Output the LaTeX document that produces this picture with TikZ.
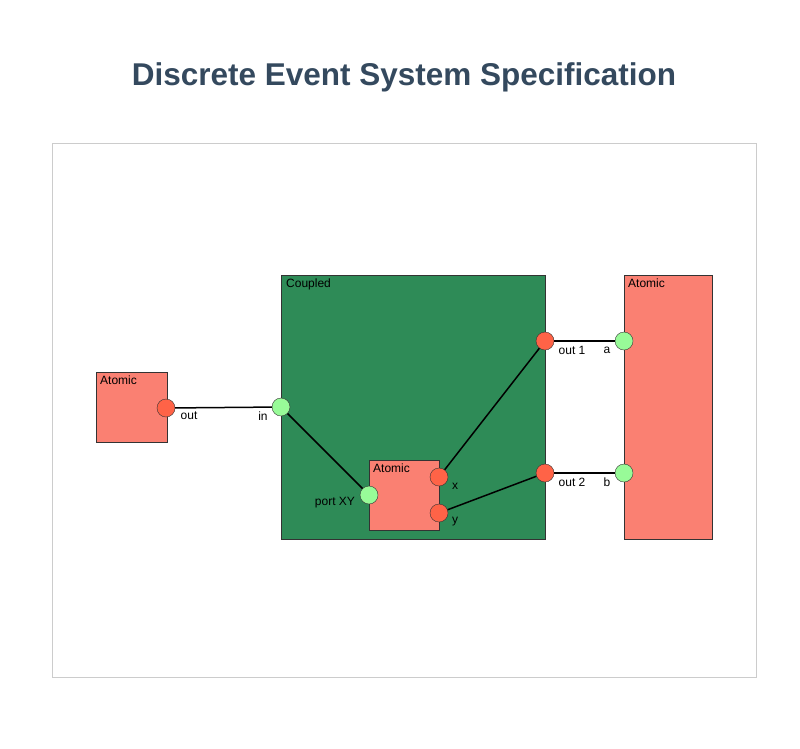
\documentclass[tikz,border=0pt]{standalone}
\usepackage{fontspec}
\setmainfont{Liberation Sans}
\begin{document}
\begin{tikzpicture}[x=1pt,y=-1pt,
  atom/.style={draw=black!80,fill={rgb,255:red,250;green,128;blue,114},line width=0.6pt},
  coup/.style={draw=black!80,fill={rgb,255:red,46;green,139;blue,87},line width=0.6pt},
  oport/.style={circle,draw=black!80,fill={rgb,255:red,255;green,99;blue,71},minimum size=18pt,inner sep=0pt},
  iport/.style={circle,draw=black!80,fill={rgb,255:red,152;green,251;blue,152},minimum size=18pt,inner sep=0pt},
  lbl/.style={font=\fontsize{12}{14}\selectfont,inner sep=0pt},
  tit/.style={anchor=north west,font=\fontsize{12}{14}\selectfont,inner sep=0pt},
  wire/.style={line width=1.5pt}]
\useasboundingbox (0,0) rectangle (800,748);
\node[font=\fontsize{31.5}{36}\selectfont\bfseries,text={rgb,255:red,52;green,73;blue,94}] (title) at (404,77) {Discrete Event System Specification};
\draw[black!20] (52,143) rectangle (756,677);
\draw[atom] (96,372) rectangle (167,442);
\node[tit] (t1) at (100,376) {Atomic};
\draw[coup] (281,275) rectangle (545,539);
\node[tit] (t2) at (286,279) {Coupled};
\draw[atom] (369,460) rectangle (439,530);
\node[tit] (t3) at (373,464) {Atomic};
\draw[atom] (624,275) rectangle (712,539);
\node[tit] (t4) at (628,279) {Atomic};
\node[oport] (out) at (166,408) {};
\node[iport] (in) at (281,407) {};
\node[iport] (xy) at (369,495) {};
\node[oport] (px) at (439,477) {};
\node[oport] (py) at (439,513) {};
\node[oport] (o1) at (545,341) {};
\node[oport] (o2) at (545,473) {};
\node[iport] (a) at (624,341) {};
\node[iport] (b) at (624,473) {};
\draw[wire] (out) -- (in);
\draw[wire] (in) -- (xy);
\draw[wire] (px) -- (o1);
\draw[wire] (py) -- (o2);
\draw[wire] (o1) -- (a);
\draw[wire] (o2) -- (b);
\node[lbl] (lo) at (189,416) {out};
\node[lbl] (li) at (263,416) {in};
\node[lbl] (lxy) at (335,503) {port XY};
\node[lbl] (lx) at (455,486) {x};
\node[lbl] (ly) at (455,522) {y};
\node[lbl] (l1) at (572,350) {out 1};
\node[lbl] (l2) at (572,482) {out 2};
\node[lbl] (la) at (607,350) {a};
\node[lbl] (lb) at (607,482) {b};
\end{tikzpicture}
\end{document}
